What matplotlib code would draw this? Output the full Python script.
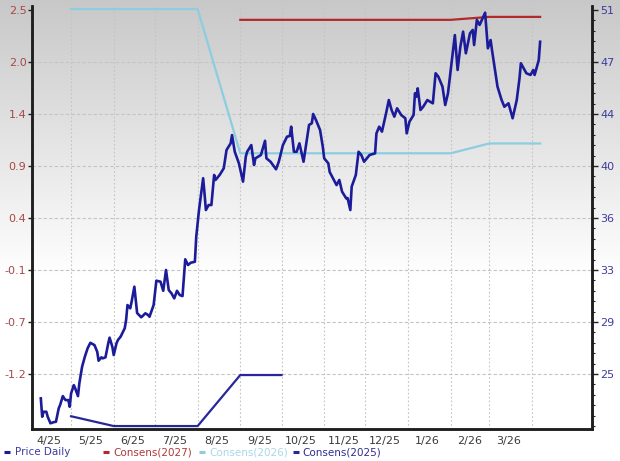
import numpy as np
import pandas as pd
import matplotlib
matplotlib.use("Agg")
import matplotlib.pyplot as plt
import matplotlib.dates as mdates
from matplotlib.lines import Line2D
from matplotlib.ticker import FixedLocator, NullFormatter, FixedFormatter

# ---------------- data ----------------
price_dates = [
    "2025-04-09", "2025-04-10", "2025-04-11", "2025-04-13", "2025-04-14", "2025-04-16",
    "2025-04-18", "2025-04-20", "2025-04-22", "2025-04-23", "2025-04-25", "2025-04-26",
    "2025-04-27", "2025-04-29", "2025-04-30", "2025-05-01", "2025-05-03", "2025-05-04",
    "2025-05-06", "2025-05-07", "2025-05-09", "2025-05-11", "2025-05-13", "2025-05-15",
    "2025-05-18", "2025-05-20", "2025-05-21", "2025-05-23", "2025-05-24", "2025-05-26",
    "2025-05-28", "2025-05-29", "2025-05-31", "2025-06-01", "2025-06-03", "2025-06-04",
    "2025-06-06", "2025-06-09", "2025-06-10", "2025-06-11", "2025-06-13", "2025-06-14",
    "2025-06-16", "2025-06-18", "2025-06-21", "2025-06-24", "2025-06-26", "2025-06-27",
    "2025-06-30", "2025-07-02", "2025-07-05", "2025-07-07", "2025-07-09", "2025-07-11",
    "2025-07-13", "2025-07-15", "2025-07-17", "2025-07-19", "2025-07-21", "2025-07-23",
    "2025-07-25", "2025-07-27", "2025-07-30", "2025-07-31", "2025-08-02", "2025-08-05",
    "2025-08-06", "2025-08-07", "2025-08-09", "2025-08-11", "2025-08-13", "2025-08-14",
    "2025-08-17", "2025-08-20", "2025-08-22", "2025-08-25", "2025-08-26", "2025-08-28",
    "2025-08-31", "2025-09-03", "2025-09-05", "2025-09-06", "2025-09-09", "2025-09-11",
    "2025-09-12", "2025-09-16", "2025-09-19", "2025-09-20", "2025-09-23", "2025-09-27",
    "2025-09-29", "2025-10-02", "2025-10-05", "2025-10-07", "2025-10-08", "2025-10-10",
    "2025-10-12", "2025-10-14", "2025-10-17", "2025-10-19", "2025-10-21", "2025-10-23",
    "2025-10-24", "2025-10-26", "2025-10-29", "2025-10-31", "2025-11-01", "2025-11-04",
    "2025-11-05", "2025-11-08", "2025-11-10", "2025-11-12", "2025-11-14", "2025-11-17",
    "2025-11-18", "2025-11-20", "2025-11-21", "2025-11-24", "2025-11-26", "2025-11-28",
    "2025-11-30", "2025-12-04", "2025-12-08", "2025-12-09", "2025-12-11", "2025-12-13",
    "2025-12-16", "2025-12-18", "2025-12-20", "2025-12-22", "2025-12-24", "2025-12-27",
    "2025-12-30", "2025-12-31", "2026-01-02", "2026-01-05", "2026-01-06", "2026-01-07",
    "2026-01-08", "2026-01-10", "2026-01-12", "2026-01-15", "2026-01-17", "2026-01-19",
    "2026-01-21", "2026-01-23", "2026-01-26", "2026-01-28", "2026-01-30", "2026-02-01",
    "2026-02-04", "2026-02-06", "2026-02-08", "2026-02-10", "2026-02-12", "2026-02-15",
    "2026-02-17", "2026-02-18", "2026-02-20", "2026-02-22", "2026-02-26", "2026-02-27",
    "2026-02-28", "2026-03-02", "2026-03-03", "2026-03-05", "2026-03-07", "2026-03-10",
    "2026-03-12", "2026-03-15", "2026-03-16", "2026-03-18", "2026-03-21", "2026-03-23",
    "2026-03-24", "2026-03-26", "2026-03-28", "2026-03-31", "2026-04-02", "2026-04-03",
    "2026-04-06", "2026-04-07",
]
price_values = [
    23.54, 22.25, 22.60, 22.60, 22.25, 21.79,
    21.86, 21.90, 22.84, 23.07, 23.70, 23.54,
    23.42, 23.42, 22.95, 23.89, 24.47, 24.24,
    23.70, 24.59, 25.76, 26.46, 27.05, 27.44,
    27.28, 26.81, 26.18, 26.42, 26.35, 26.42,
    27.40, 27.80, 27.16, 26.58, 27.40, 27.63,
    27.87, 28.46, 29.04, 30.09, 29.86, 30.32,
    31.38, 29.53, 29.23, 29.51, 29.39, 29.27,
    30.09, 31.80, 31.73, 31.09, 32.55, 31.14,
    30.91, 30.56, 31.09, 30.79, 30.72, 33.30,
    32.90, 33.06, 33.13, 34.89, 36.76, 38.99,
    37.93, 36.76, 37.11, 37.11, 39.22, 38.87,
    39.22, 39.69, 40.97, 41.44, 42.02, 40.85,
    40.04, 38.75, 40.50, 40.85, 41.32, 39.92,
    40.39, 40.62, 41.62, 40.39, 40.15, 39.62,
    40.15, 41.32, 41.91, 41.95, 42.61, 40.85,
    40.85, 41.44, 40.15, 41.44, 42.73, 42.85,
    43.50, 43.08, 42.38, 41.20, 40.39, 40.04,
    39.43, 38.87, 38.51, 38.87, 38.05, 37.58,
    37.60, 36.76, 38.40, 39.22, 40.85, 40.62,
    40.15, 40.62, 40.74, 42.14, 42.61, 42.26,
    43.55, 44.48, 43.78, 43.31, 43.90, 43.43,
    43.20, 42.14, 42.96, 43.43, 44.95, 44.71,
    45.30, 43.78, 44.01, 44.48, 44.36, 44.25,
    46.36, 46.12, 45.42, 44.13, 44.95, 46.59,
    49.04, 46.59, 48.22, 49.28, 47.76, 49.16,
    49.40, 48.34, 50.10, 49.75, 50.61, 49.40,
    48.11, 48.69, 47.99, 46.71, 45.42, 44.48,
    44.01, 44.25, 43.90, 43.20, 44.48, 46.01,
    47.06, 46.71, 46.36, 46.24, 46.59, 46.24,
    47.29, 48.57,
]

cons2027_dates = ["2025-09-01", "2025-10-01", "2025-11-01", "2025-12-01", "2026-01-01",
                  "2026-02-01", "2026-03-01", "2026-04-01", "2026-04-07"]
cons2027_values = [2.40, 2.40, 2.40, 2.40, 2.40, 2.40, 2.43, 2.43, 2.43]

cons2026_dates = ["2025-05-01", "2025-06-01", "2025-07-01", "2025-08-01", "2025-09-01",
                  "2025-10-01", "2025-11-01", "2025-12-01", "2026-01-01", "2026-02-01",
                  "2026-03-01", "2026-04-01", "2026-04-07"]
cons2026_values = [2.51, 2.51, 2.51, 2.51, 1.04, 1.04, 1.04, 1.04, 1.04, 1.04, 1.14, 1.14, 1.14]

cons2025_dates = ["2025-05-01", "2025-06-01", "2025-07-01", "2025-08-01", "2025-09-01",
                  "2025-10-01"]
cons2025_values = [-1.64, -1.74, -1.74, -1.74, -1.22, -1.22]

eps_ticks = [2.5, 1.97, 1.44, 0.91, 0.38, -0.15, -0.68, -1.21]
eps_labels = ["2.5", "2.0", "1.4", "0.9", "0.4", "-0.1", "-0.7", "-1.2"]
price_ticks = [50.8, 47.15, 43.5, 39.85, 36.2, 32.55, 28.9, 25.25]
price_labels = ["51", "47", "44", "40", "36", "33", "29", "25"]
month_labels = ["4/25", "5/25", "6/25", "7/25", "8/25", "9/25", "10/25", "11/25",
                "12/25", "1/26", "2/26", "3/26"]

series_names = ["Price Daily", "Consens(2027)", "Consens(2026)", "Consens(2025)"]

# ---------------- styling ----------------
C_PRICE = "#1c1c9a"
C_2027 = "#b22a2a"
C_2026 = "#8ccde0"
C_2025 = "#27279a"
legend_text_colors = ["#3c3ca6", "#b03838", "#a9d8e8", "#2e2e90"]

W, H = 620, 461
fig = plt.figure(figsize=(W / 100, H / 100), dpi=100)

# background gradient (whole figure)
bg = fig.add_axes([0, 0, 1, 1], zorder=-10)
rows = np.linspace(0, 1, 400)[:, None]
vals = 200 + 55 * np.clip(rows / 0.6, 0, 1)
grad = np.repeat(vals, 2, axis=1) / 255.0
bg.imshow(np.dstack([grad, grad, grad]), aspect="auto", extent=[0, 1, 0, 1],
          interpolation="bilinear")
bg.set_axis_off()

L, R, T, B = 32, 592, 6, 429
ax = fig.add_axes([L / W, 1 - B / H, (R - L) / W, (B - T) / H])
ax.patch.set_alpha(0)
ax2 = ax.twinx()
ax2.patch.set_alpha(0)

# data
pd_dates = pd.to_datetime(price_dates)
ax.plot(pd.to_datetime(cons2026_dates), cons2026_values, color=C_2026, lw=1.6, zorder=3)
ax.plot(pd.to_datetime(cons2027_dates), cons2027_values, color=C_2027, lw=1.6, zorder=3)
ax.plot(pd.to_datetime(cons2025_dates), cons2025_values, color=C_2025, lw=1.6, zorder=3)
ax2.plot(pd_dates, price_values, color=C_PRICE, lw=1.9, zorder=4, solid_joinstyle="round")

# limits
ax.set_xlim(pd.Timestamp("2025-04-02 14:00"), pd.Timestamp("2026-05-14 17:00"))
ax.set_ylim(-1.77, 2.541)
ax2.set_ylim(21.39, 51.08)

# x axis: gridlines at month starts, labels mid-month
month_starts = pd.date_range("2025-05-01", "2026-04-01", freq="MS")
mid_months = pd.date_range("2025-04-01", "2026-03-01", freq="MS") + pd.Timedelta(days=14)
ax.xaxis.set_major_locator(FixedLocator(mdates.date2num(month_starts)))
ax.xaxis.set_major_formatter(NullFormatter())
ax.xaxis.set_minor_locator(FixedLocator(mdates.date2num(mid_months)))
ax.xaxis.set_minor_formatter(FixedFormatter(month_labels))
ax.tick_params(axis="x", which="both", length=0, pad=5, labelsize=8, labelcolor="#3a3a3a")
ax.grid(axis="x", which="major", color="#c4c4c4", linestyle=(0, (1.5, 2)), lw=0.8)

# left axis
ax.set_yticks(eps_ticks)
ax.set_yticklabels(eps_labels)
ax.tick_params(axis="y", which="major", length=3, width=1, direction="out", pad=1,
               labelsize=8, labelcolor="#a84848", color="#222222")
ax.grid(axis="y", which="major", color="#c4c4c4", linestyle=(0, (3, 2)), lw=0.8)
ax.get_ygridlines()[0].set_visible(False)

# right axis
ax2.set_yticks(price_ticks)
ax2.set_yticklabels(price_labels)
ax2.yaxis.set_minor_locator(FixedLocator(list(np.arange(21.6, 51.1, 0.73))))
ax2.tick_params(axis="y", which="major", length=4, width=1, direction="out", pad=2,
                labelsize=8, labelcolor="#3c3ca0", color="#222222")
ax2.tick_params(axis="y", which="minor", length=2.5, width=0.8, direction="out",
                color="#222222")

for a in (ax, ax2):
    a.spines["top"].set_visible(False)
    for s in ("left", "right", "bottom"):
        a.spines[s].set_linewidth(1.8)
        a.spines[s].set_color("#1e1e1e")

# legend (manual row at bottom)
leg_colors = [C_PRICE, C_2027, C_2026, C_2025]
marker_x = [4, 103, 199, 293]
text_x = [15, 113, 209, 302]
ly = 1 - 452 / H
for name, lc, tc, mx, tx in zip(series_names, leg_colors, legend_text_colors, marker_x, text_x):
    fig.add_artist(Line2D([mx / W, (mx + 6) / W], [ly, ly], transform=fig.transFigure,
                          color=lc, lw=2.2, solid_capstyle="butt"))
    fig.text(tx / W, ly, name, color=tc, fontsize=7.5, va="center", ha="left")

fig.savefig("out.png", dpi=100)
